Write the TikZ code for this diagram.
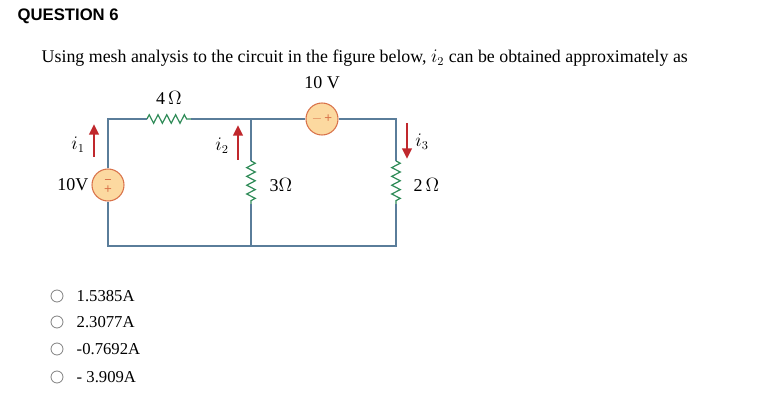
\documentclass[tikz,border=0pt]{standalone}
\usepackage{fontspec}
\setmainfont{Liberation Serif}
\setsansfont{Liberation Sans}
\usetikzlibrary{decorations.pathmorphing,arrows.meta}
\definecolor{wire}{HTML}{5A7D9A}
\definecolor{res}{HTML}{2E8B57}
\definecolor{srcfill}{HTML}{FCD9A0}
\definecolor{srcdraw}{HTML}{D9734A}
\definecolor{arr}{HTML}{C0282D}
\begin{document}
\begin{tikzpicture}[x=0.75pt,y=-0.75pt,
  wireline/.style={draw=wire,line width=0.9pt},
  resline/.style={draw=res,line width=0.9pt,decorate,decoration={zigzag,amplitude=3.2pt,segment length=6.6pt}},
  src/.style={circle,fill=srcfill,draw=srcdraw,line width=0.8pt,minimum size=24pt,inner sep=0pt,font=\normalsize\sffamily,text=srcdraw},
  curarrow/.style={draw=arr,line width=2pt,-{Triangle[length=8pt,width=7pt]}},
  lbl/.style={font=\fontsize{13.5}{15}\selectfont},
  opt/.style={font=\fontsize{12.5}{14}\selectfont,anchor=west},
  radio/.style={circle,draw=gray,line width=0.6pt,minimum size=9pt,inner sep=0pt}]
\useasboundingbox (0,0) rectangle (765,406);
\node[anchor=west,font=\sffamily\bfseries\fontsize{12.5}{14}\selectfont] (q) at (13,16) {QUESTION 6};
\node[anchor=west,font=\fontsize{13.4}{15}\selectfont] (txt) at (37,58) {Using mesh analysis to the circuit in the figure below, $i_2$ can be obtained approximately as};
% corners
\coordinate (tl) at (108,119); \coordinate (tm) at (251,119); \coordinate (tr) at (396,119);
\coordinate (bl) at (108,246); \coordinate (bm) at (251,246); \coordinate (br) at (396,246);
\coordinate (r4a) at (147,119); \coordinate (r4b) at (191,119);
\coordinate (r3a) at (251,161); \coordinate (r3b) at (251,204);
\coordinate (r2a) at (396,161); \coordinate (r2b) at (396,204);
\node[src] (s1) at (108,185) {\begin{tabular}{@{}c@{}}\rule[2pt]{5pt}{0.7pt}\\[-4pt]+\end{tabular}};
\node[src] (s2) at (322,119) {$-$\,+};
\draw[wireline] (s1.north) -- (tl) -- (r4a);
\draw[wireline] (r4b) -- (tm) -- (s2.west);
\draw[wireline] (s2.east) -- (tr) -- (r2a);
\draw[wireline] (r2b) -- (br) -- (bm) -- (bl) -- (s1.south);
\draw[wireline] (tm) -- (r3a); \draw[wireline] (r3b) -- (bm);
\draw[resline] (r4a) -- (r4b);
\draw[resline] (r3a) -- (r3b);
\draw[resline] (r2a) -- (r2b);
\node[lbl] (l4) at (169,98) {4\,$\Omega$};
\node[lbl] (l10) at (322,83) {10 V};
\node[lbl,anchor=east] (l10v) at (93,185) {10V};
\node[lbl,anchor=west] (l3) at (265,185) {3$\Omega$};
\node[lbl,anchor=west] (l2) at (409,185) {2\,$\Omega$};
\coordinate (a1s) at (94,157); \coordinate (a1e) at (94,124);
\coordinate (a2s) at (238,160); \coordinate (a2e) at (238,125);
\coordinate (a3s) at (407,123); \coordinate (a3e) at (407,159);
\draw[curarrow] (a1s) -- (a1e);
\draw[curarrow] (a2s) -- (a2e);
\draw[curarrow] (a3s) -- (a3e);
\node[lbl] (i1) at (78,145) {$i_1$};
\node[lbl] (i2) at (222,146) {$i_2$};
\node[lbl] (i3) at (422,142) {$i_3$};
\foreach \y/\t [count=\k] in {296/1.5385A,322/2.3077A,349/-0.7692A,377/- 3.909A}{
  \node[radio] (c\k) at (57,\y) {};
  \node[opt] (o\k) at (72,\y) {\t};
}
\end{tikzpicture}
\end{document}
